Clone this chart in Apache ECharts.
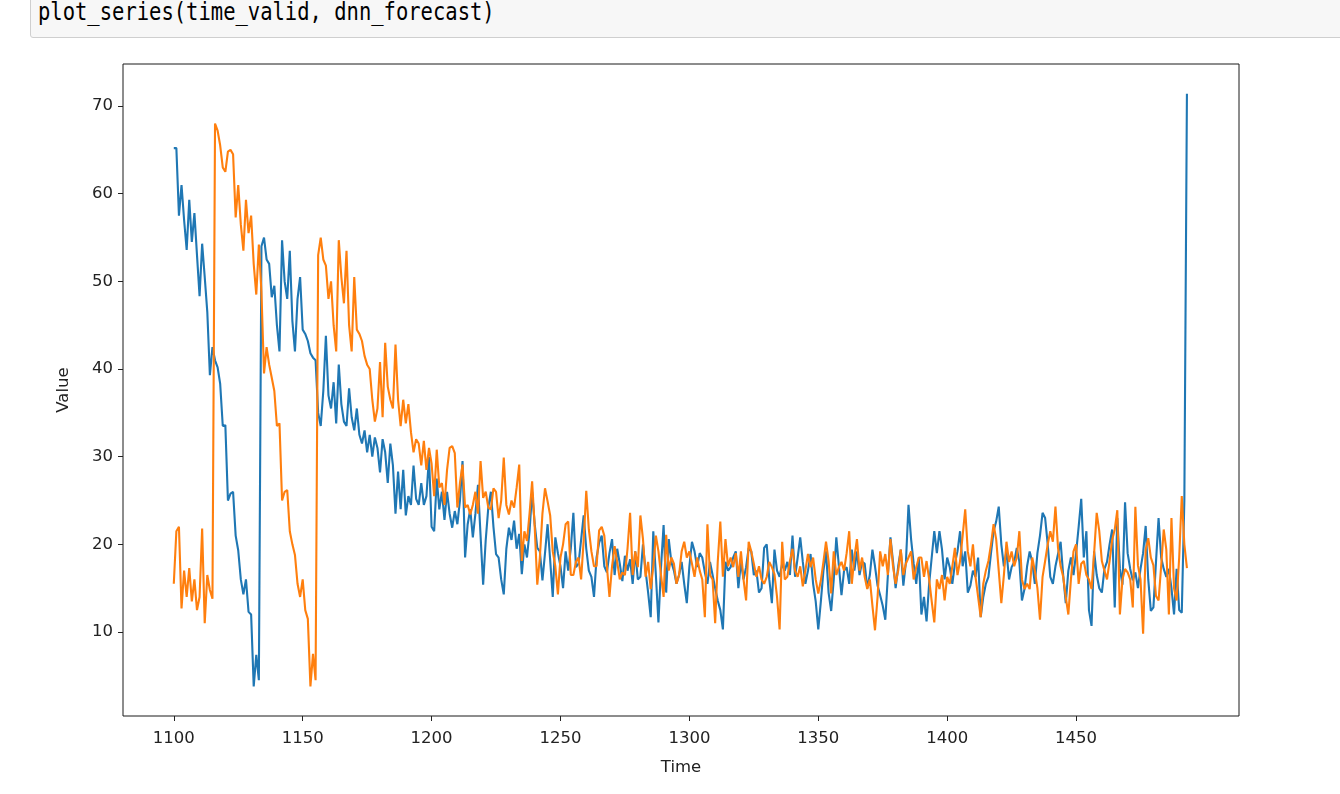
<!DOCTYPE html>
<html>
<head>
<meta charset="utf-8">
<script src="https://cdn.jsdelivr.net/npm/echarts@6/dist/echarts.min.js"></script>
<style>
html,body{margin:0;padding:0;background:#fff;width:1340px;height:794px;overflow:hidden;}
#code{position:absolute;left:30px;top:-12px;width:1330px;height:50px;background:#f7f7f7;border:1px solid #cfcfcf;border-radius:3px;box-sizing:border-box;}
#code span{position:absolute;left:7px;top:13.7px;font-family:'DejaVu Sans Mono',monospace;font-size:20.5px;line-height:20.5px;color:#000;white-space:pre;transform:scaleY(1.25);transform-origin:0 17.3px;}
#chart{position:absolute;left:0;top:0;width:1340px;height:794px;}
</style>
</head>
<body>
<div id="chart"></div>
<div id="code"><span>plot_series(time_valid, dnn_forecast)</span></div>
<script>
// ---- data ----
const timeStart = 1100;           // first time step; one step per value
const xTickValues = [1100, 1150, 1200, 1250, 1300, 1350, 1400, 1450];
const yTickValues = [10, 20, 30, 40, 50, 60, 70];

const seriesValues = [
  65.2, 65.2, 57.5, 61.0, 57.0, 53.6, 59.3, 54.5, 57.8, 53.0,
  48.3, 54.3, 50.5, 46.5, 39.3, 42.5, 41.0, 40.2, 38.3, 33.5,
  33.6, 25.0, 25.8, 26.0, 21.0, 19.3, 16.0, 14.3, 16.0, 12.3,
  12.0, 3.8, 7.4, 4.5, 54.0, 55.0, 52.5, 52.0, 48.2, 49.5,
  45.0, 42.0, 54.7, 50.0, 48.0, 53.5, 45.5, 42.0, 48.0, 50.5,
  44.5, 44.0, 43.2, 41.8, 41.3, 41.0, 35.0, 33.5, 37.5, 43.8,
  37.0, 35.5, 38.5, 33.8, 40.5, 36.0, 34.0, 33.5, 37.8, 34.5,
  33.0, 35.5, 32.5, 31.5, 33.0, 30.5, 32.5, 30.0, 32.2, 31.0,
  28.2, 32.0, 30.5, 27.0, 31.5, 29.0, 23.5, 28.3, 24.0, 28.5,
  23.3, 25.5, 24.5, 29.0, 25.2, 24.5, 27.0, 24.5, 25.5, 30.0,
  22.0, 21.5, 27.5, 24.0, 26.0, 22.8, 26.0, 23.5, 21.9, 23.8,
  22.3, 25.0, 29.5, 18.5, 22.3, 24.0, 20.8, 23.5, 26.8, 21.0,
  15.4, 20.5, 24.2, 26.0, 22.0, 18.9, 18.5, 16.0, 14.3, 19.5,
  21.9, 20.5, 22.7, 19.5, 21.2, 16.6, 20.0, 18.5, 21.5, 26.0,
  22.3, 19.6, 19.2, 15.9, 19.0, 22.3, 18.2, 14.0, 20.8, 19.0,
  17.5, 15.0, 19.2, 17.0, 19.5, 23.6, 17.4, 17.8, 20.5, 23.3,
  19.5, 17.0, 16.3, 14.0, 18.5, 20.2, 21.0, 17.5, 16.8, 19.0,
  20.6, 16.5, 19.5, 17.8, 15.8, 18.7, 17.0, 18.3, 15.5, 19.2,
  16.0, 16.3, 20.0, 17.0, 14.5, 11.7, 21.5, 16.5, 11.1, 17.4,
  22.2, 14.5, 20.6, 18.0, 17.0, 15.5, 16.5, 18.0, 15.5, 13.3,
  17.5, 20.3, 19.2, 17.4, 19.0, 18.5, 16.8, 15.5, 18.0, 16.5,
  15.0, 13.6, 12.5, 10.3, 18.0, 17.0, 17.4, 18.5, 19.2, 15.0,
  18.0, 16.0, 17.4, 19.6, 19.2, 16.5, 17.0, 14.5, 15.0, 19.6,
  20.0, 16.0, 13.3, 19.4, 17.0, 16.3, 17.8, 17.0, 18.0, 16.5,
  21.0, 16.3, 18.5, 20.8, 18.0, 15.5, 17.0, 18.9, 15.5, 13.5,
  10.3, 13.5, 17.0, 19.2, 14.5, 12.4, 16.0, 20.8, 17.5, 14.2,
  17.0, 17.4, 15.5, 19.4, 17.0, 19.2, 16.5, 18.0, 17.8, 15.0,
  16.5, 19.4, 17.5, 15.3, 14.2, 13.0, 11.4, 16.5, 20.8, 18.0,
  15.0, 17.5, 19.4, 15.3, 18.0, 24.5, 20.6, 17.8, 15.5, 18.5,
  12.0, 14.0, 11.2, 15.5, 18.5, 21.5, 19.0, 21.5, 19.4, 16.0,
  18.5, 17.4, 15.5, 17.8, 19.2, 21.5, 17.5, 19.2, 14.5, 15.3,
  17.0, 16.3, 18.5, 11.7, 14.0, 15.5, 16.3, 19.0, 21.5, 22.6,
  24.3, 20.0, 17.5, 19.2, 16.0, 17.4, 18.0, 19.6, 18.0, 13.6,
  14.9, 17.5, 19.2, 18.0, 15.5, 19.0, 21.0, 23.6, 23.0, 20.0,
  16.3, 15.5, 17.5, 18.9, 20.3, 16.5, 13.3, 17.0, 18.5, 16.5,
  19.0, 22.0, 25.2, 18.5, 21.5, 12.5, 10.7, 19.2, 16.5, 15.0,
  14.5, 17.2, 18.0, 20.0, 21.7, 12.8, 23.0, 17.2, 15.4, 24.8,
  19.0, 17.2, 15.9, 16.8, 15.0, 17.2, 19.0, 22.1, 16.0, 12.4,
  12.8, 18.0, 23.0, 18.5, 17.2, 16.3, 17.2, 15.0, 12.0, 17.2,
  12.5, 12.2, 25.0, 71.4
];

const forecastValues = [
  15.5, 21.5, 22.0, 12.7, 17.0, 14.0, 17.3, 13.5, 16.0, 12.5,
  14.0, 21.8, 11.0, 16.5, 14.8, 13.8, 68.0, 67.2, 65.5, 63.0,
  62.5, 64.8, 65.0, 64.5, 57.3, 61.0, 56.5, 53.5, 59.3, 55.5,
  57.5, 52.0, 48.5, 54.2, 48.8, 39.5, 42.5, 40.5, 39.0, 37.5,
  33.5, 33.8, 25.0, 26.0, 26.2, 21.5, 20.0, 18.8, 15.5, 14.0,
  16.0, 12.5, 11.5, 3.8, 7.5, 4.5, 53.0, 55.0, 52.5, 51.8,
  48.0, 50.0, 45.0, 42.0, 54.7, 50.5, 47.5, 53.5, 45.0, 42.0,
  50.5, 44.5, 44.0, 43.2, 41.5, 40.5, 40.0, 36.5, 34.0, 35.5,
  40.8, 34.5, 43.0, 38.0, 36.5, 35.5, 42.8, 36.5, 33.5, 36.5,
  33.8, 36.0, 32.8, 30.5, 32.0, 31.5, 29.0, 31.8, 28.5, 31.0,
  29.2, 25.5, 30.8, 26.5, 27.0, 24.5, 28.5, 31.0, 31.2, 30.4,
  24.2, 27.0, 29.1, 24.2, 24.5, 23.4, 24.5, 26.0, 23.5, 29.5,
  25.3, 26.0, 24.2, 24.0, 26.4, 26.0, 23.0, 25.0, 29.9, 24.5,
  23.4, 25.0, 24.2, 26.5, 29.1, 18.1, 21.5, 20.4, 23.5, 27.2,
  22.0, 15.4, 18.5, 23.5, 26.4, 24.9, 23.3, 19.2, 17.5, 14.3,
  18.5, 20.0, 22.3, 22.6, 16.5, 16.5, 18.0, 18.5, 16.0, 20.5,
  26.1, 21.7, 19.2, 17.5, 17.5, 21.6, 22.0, 21.0, 17.5, 14.0,
  17.5, 19.8, 18.0, 16.0, 16.8, 16.5, 19.5, 23.6, 16.5, 19.2,
  17.4, 23.3, 20.6, 16.3, 18.0, 14.9, 17.5, 21.0, 19.2, 16.5,
  14.0, 21.1, 17.0, 18.5, 17.8, 15.5, 16.5, 19.2, 20.3, 18.5,
  19.2, 17.8, 16.3, 18.5, 17.0, 16.0, 11.7, 22.3, 16.5, 16.0,
  11.0, 18.0, 22.6, 16.3, 20.6, 17.5, 18.5, 17.4, 19.0, 16.3,
  19.2, 16.0, 13.6, 20.3, 19.2, 17.8, 16.3, 17.5, 16.0, 15.5,
  16.3, 18.0, 17.4, 16.6, 14.0, 10.3, 20.3, 16.0, 16.3, 18.1,
  19.5, 17.0, 16.3, 17.5, 15.2, 17.0, 18.9, 17.4, 18.5, 16.0,
  14.4, 15.9, 18.0, 20.3, 18.1, 14.4, 19.2, 16.5, 17.4, 18.0,
  17.0, 19.0, 21.5, 15.5, 18.5, 20.6, 17.0, 18.5, 16.3, 14.9,
  16.0, 13.0, 10.2, 14.0, 19.2, 17.5, 18.9, 16.5, 20.6, 17.5,
  15.5, 17.0, 19.4, 16.5, 17.8, 18.5, 19.2, 16.0, 17.4, 18.5,
  18.5, 16.3, 18.1, 16.0, 13.5, 11.1, 16.0, 14.9, 16.5, 13.6,
  16.3, 15.5, 17.5, 19.6, 16.5, 18.1, 21.0, 24.0, 19.2, 17.5,
  20.0, 16.3, 14.0, 11.7, 15.5, 17.0, 18.1, 20.0, 22.3, 20.6,
  17.0, 13.3, 16.5, 20.3, 18.0, 19.2, 17.5, 18.5, 21.5, 16.0,
  14.9, 15.5, 14.9, 18.5, 17.0, 15.0, 11.4, 16.3, 18.1, 20.0,
  21.5, 20.3, 24.3, 19.6, 17.5, 16.3, 14.0, 12.0, 16.0, 19.2,
  20.0, 15.5, 17.8, 18.1, 16.5, 16.0, 14.9, 19.0, 23.6, 21.5,
  18.1, 17.0, 16.0, 18.1, 20.5, 21.7, 23.9, 12.0, 16.0, 17.2,
  16.8, 16.0, 12.8, 24.3, 17.6, 16.0, 9.8, 19.4, 20.7, 18.5,
  17.6, 14.1, 13.6, 17.5, 21.7, 19.4, 12.0, 23.0, 15.0, 13.6,
  18.5, 25.5, 20.0, 17.3
];

if (seriesValues.length !== forecastValues.length) {
  throw new Error('length mismatch ' + seriesValues.length + ' vs ' + forecastValues.length);
}

const toPairs = vals => vals.map((v, i) => [timeStart + i, v]);

const axisColor = '#222';
const font = 'DejaVu Sans';
const fs = 16.5;

const chart = echarts.init(document.getElementById('chart'), null, { renderer: 'canvas' });
chart.setOption({
  animation: false,
  backgroundColor: '#fff',
  grid: {
    left: 123, top: 64, width: 1116, height: 652,
    show: true, borderColor: '#1a1a1a', borderWidth: 1, backgroundColor: 'transparent'
  },
  xAxis: {
    type: 'value',
    min: 1080.3, max: 1513.2,
    name: 'Time', nameLocation: 'middle', nameGap: 43,
    nameTextStyle: { fontFamily: font, fontSize: fs, color: axisColor },
    axisLine: { show: false },
    splitLine: { show: false },
    axisTick: { show: true, inside: false, length: 5, customValues: xTickValues,
                lineStyle: { color: axisColor, width: 1 } },
    axisLabel: { customValues: xTickValues, fontFamily: font, fontSize: fs, color: axisColor, margin: 14,
                 formatter: v => String(v) }
  },
  yAxis: {
    type: 'value',
    min: 0.42, max: 74.8,
    name: 'Value', nameLocation: 'middle', nameGap: 51, nameRotate: 90,
    nameTextStyle: { fontFamily: font, fontSize: fs, color: axisColor },
    axisLine: { show: false },
    splitLine: { show: false },
    axisTick: { show: true, inside: false, length: 5, customValues: yTickValues,
                lineStyle: { color: axisColor, width: 1 } },
    axisLabel: { customValues: yTickValues, fontFamily: font, fontSize: fs, color: axisColor, margin: 10,
                 formatter: v => String(v) }
  },
  series: [
    {
      type: 'line', data: toPairs(seriesValues), showSymbol: false,
      lineStyle: { color: '#1f77b4', width: 2.1 }, itemStyle: { color: '#1f77b4' }, z: 2
    },
    {
      type: 'line', data: toPairs(forecastValues), showSymbol: false,
      lineStyle: { color: '#ff7f0e', width: 2.1 }, itemStyle: { color: '#ff7f0e' }, z: 3
    }
  ]
});
</script>
</body>
</html>
